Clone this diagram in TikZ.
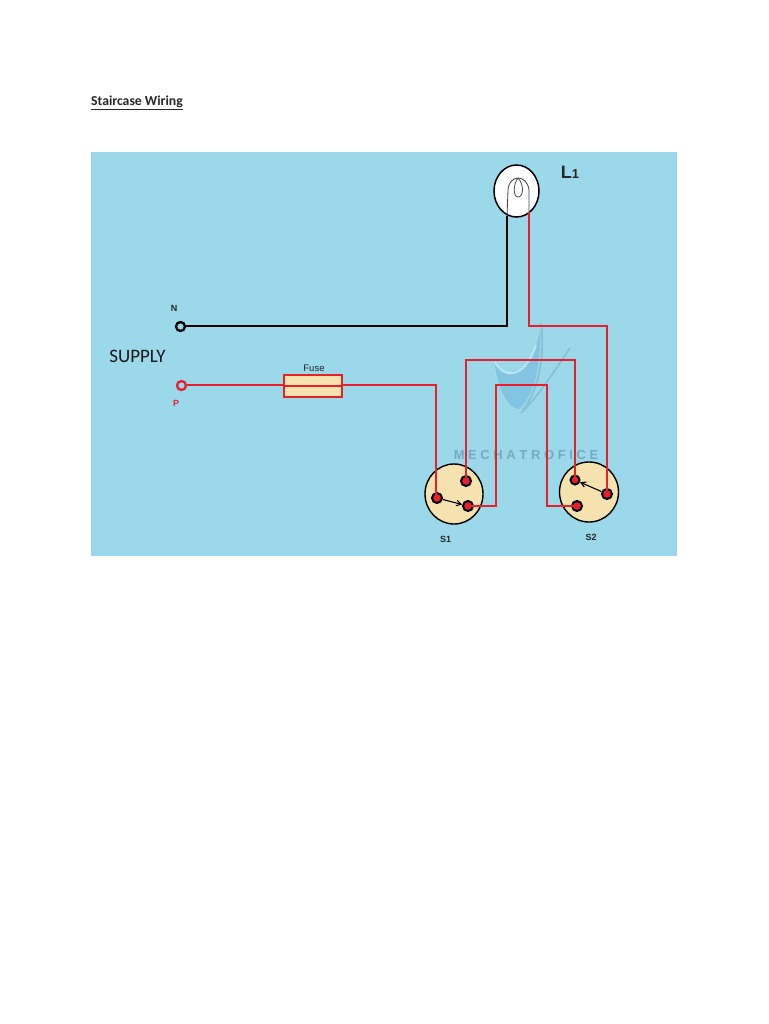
\documentclass[tikz,border=0pt]{standalone}
\usepackage{fontspec}
\usepackage{tikz}
\setmainfont{Carlito}
\setsansfont{Liberation Sans}
\usetikzlibrary{arrows, shapes.geometric}
\definecolor{panelblue}{HTML}{9BD8EA}
\definecolor{wirered}{HTML}{E8202A}
\definecolor{cream}{HTML}{F5E2AE}
\definecolor{markblue}{HTML}{6FB4DC}
\tikzset{
  redwire/.style = {draw = wirered, line width = 2pt},
  blackwire/.style = {draw = black, line width = 2pt},
  switchbody/.style = {draw = black, fill = cream, line width = 1.4pt, ellipse, inner sep = 0pt},
  terminal/.style = {circle, draw = black, fill = wirered, line width = 2pt, minimum size = 10pt, inner sep = 0pt},
  label/.style = {font = \sffamily\bfseries\fontsize{9}{9}\selectfont, text = black!85}
}
\begin{document}
\begin{tikzpicture}[x = 1pt, y = -1pt, >=angle 60]
\useasboundingbox (0,0) rectangle (768,1024);
\fill[panelblue] (91,152) rectangle (677,556);
% watermark
\fill[markblue!55!panelblue] (495,365) .. controls (498,390) and (508,408) .. (519,409)
  .. controls (530,400) and (541,375) .. (540,330)
  .. controls (535,360) and (515,385) .. (495,365);
\draw[white!35!panelblue, line width = 2pt] (495,362) .. controls (505,380) and (525,378) .. (536,345);
\draw[black!12!panelblue, line width = 1.5pt] (521,413) .. controls (535,400) and (552,375) .. (570,348);
\draw[black!10!panelblue, line width = 2pt] (541,323) .. controls (545,360) and (538,390) .. (523,410);
\node[font = \sffamily\bfseries\fontsize{13}{13}\selectfont, text = markblue!75!black!55!panelblue] (mark) at (526,455) {M E C H A T R O F I C E};
% lamp
\node[ellipse, draw = black, fill = white, line width = 1.5pt, minimum width = 45pt, minimum height = 52pt, inner sep = 0pt] (lamp) at (516.5,191) {};
\draw[black!75, line width = 0.8pt] (507,216) -- (508,190) .. controls (509,174) and (527,174) .. (529,190) -- (529,212);
\draw[black!70, line width = 0.8pt] (518,178) .. controls (513,184) and (513,197) .. (518,197) .. controls (524,197) and (524,184) .. (518,178);
% switches
\node[switchbody, minimum width = 58pt, minimum height = 60pt] (s1) at (454,494) {};
\node[switchbody, minimum width = 59pt, minimum height = 60pt] (s2) at (589,492) {};
\node[terminal] (s1a) at (437,498) {};
\node[terminal] (s1b) at (466,481) {};
\node[terminal] (s1c) at (468,506) {};
\node[terminal, minimum size = 9pt] (s2a) at (575,480) {};
\node[terminal] (s2b) at (577,506) {};
\node[terminal] (s2c) at (607,494) {};
% supply points
\node[circle, draw = black, fill = panelblue, line width = 2.3pt, minimum size = 9pt, inner sep = 0pt] (n) at (180.5,326.5) {};
\node[circle, draw = wirered, fill = panelblue, line width = 2.3pt, minimum size = 9pt, inner sep = 0pt] (p) at (181.5,385.5) {};
% corners
\coordinate (k1) at (466,360);
\coordinate (k2) at (575,360);
\coordinate (k3) at (496,385);
\coordinate (k4) at (547,385);
\coordinate (k5) at (507,326);
\coordinate (k6) at (529,212);
\coordinate (k7) at (529,326);
\coordinate (k8) at (607,326);
\coordinate (k9) at (436,385);
\coordinate (k10) at (496,506);
\coordinate (k11) at (547,506);
\coordinate (k12) at (507,216);
\coordinate (k13) at (436,498);
\coordinate (k14) at (186,326);
\coordinate (k15) at (187,385);
% wires
\draw[blackwire] (k14) -- (k5) -- (k12);
\draw[redwire] (k6) -- (k7) -- (k8) -- (s2c.center);
\draw[redwire] (k15) -- (k9) -- (k13);
\draw[redwire] (s1b.center) -- (k1) -- (k2) -- (s2a.center);
\draw[redwire] (s1c.center) -- (k10) -- (k3) -- (k4) -- (k11) -- (s2b.center);
\draw[->, line width = 1.1pt] (s1a) -- (s1c);
\draw[->, line width = 1.1pt] (s2c) -- (s2a);
% fuse
\node[draw = wirered, fill = cream, line width = 1.5pt, minimum width = 58pt, minimum height = 22pt, inner sep = 0pt] (fuse) at (313,386) {};
\draw[redwire, line width = 1.5pt] (fuse.west) -- (fuse.east);
% labels
\node[font = \bfseries\fontsize{13.7}{13.7}\selectfont, text = black!85, inner sep = 0pt] (title) at (137,103) {\underline{Staircase Wiring}};
\node[font = \fontsize{19}{19}\selectfont, text = black!90, inner sep = 0pt] (supply) at (137.5,356) {SUPPLY};
\node[font = \sffamily\fontsize{9.5}{9.5}\selectfont, text = black!85, inner sep = 0pt] (fuselabel) at (314,368) {Fuse};
\node[label, inner sep = 0pt] (nlabel) at (174,308) {N};
\node[label, text = wirered, inner sep = 0pt] (plabel) at (176,403) {P};
\node[label, inner sep = 0pt] (s1label) at (445.5,539) {S1};
\node[label, inner sep = 0pt] (s2label) at (591,537) {S2};
\node[font = \sffamily\bfseries\fontsize{18}{18}\selectfont, text = black!85, inner sep = 0pt] (l1label) at (570,172) {L{\fontsize{13}{13}\selectfont 1}};
\end{tikzpicture}
\end{document}
